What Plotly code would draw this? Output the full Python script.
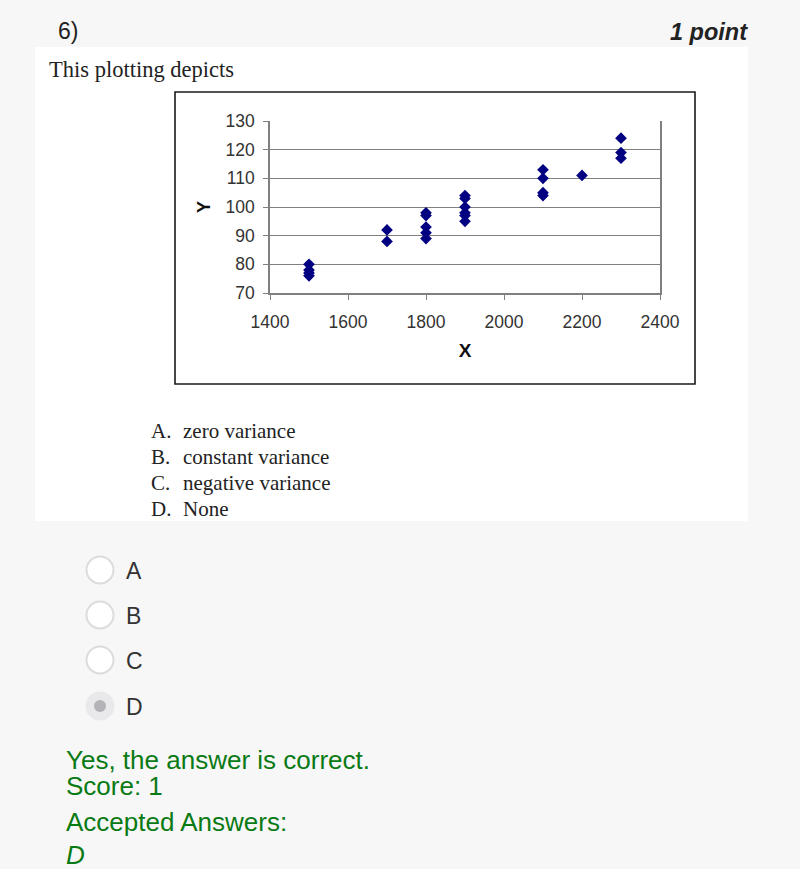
import plotly.graph_objects as go

# ---- data ----
x_values = [1500, 1500, 1500, 1500,
            1700, 1700,
            1800, 1800, 1800, 1800, 1800,
            1900, 1900, 1900, 1900, 1900, 1900,
            2100, 2100, 2100, 2100,
            2200,
            2300, 2300, 2300]
y_values = [80, 78, 77, 76,
            92, 88,
            98, 97, 93, 91, 89,
            104, 103, 100, 98, 97, 95,
            113, 110, 105, 104,
            111,
            124, 119, 117]
x_ticks = [1400, 1600, 1800, 2000, 2200, 2400]
y_ticks = [70, 80, 90, 100, 110, 120, 130]
option_letters = ["A.", "B.", "C.", "D."]
option_texts = ["zero variance", "constant variance", "negative variance", "None"]
choices = ["A", "B", "C", "D"]

W, H = 800, 869


def px(x):
    return x / W


def py(y):
    return 1 - y / H


fig = go.Figure()
fig.add_trace(go.Scatter(
    x=x_values, y=y_values, mode="markers",
    marker=dict(symbol="diamond", size=9, color="#000080"),
    showlegend=False, hoverinfo="x+y"))

SERIF = "Liberation Serif"
SANS = "Liberation Sans"

shapes = []
# white panel
shapes.append(dict(type="rect", xref="paper", yref="paper",
                   x0=px(35), x1=px(748), y0=py(521), y1=py(47),
                   fillcolor="white", line=dict(width=0), layer="below"))
# chart frame
shapes.append(dict(type="rect", xref="paper", yref="paper",
                   x0=px(175), x1=px(695), y0=py(384), y1=py(92),
                   fillcolor="rgba(0,0,0,0)", line=dict(color="#1a1a1a", width=1.6),
                   layer="below"))
# radio buttons
radio_y = [570, 615, 660, 706]
for c, ry in zip(choices, radio_y):
    r = 14.5
    if c == "D":
        shapes.append(dict(type="circle", xref="paper", yref="paper",
                           x0=px(100 - r), x1=px(100 + r), y0=py(ry + r), y1=py(ry - r),
                           fillcolor="#e9e9ec", line=dict(width=0)))
        r2 = 6
        shapes.append(dict(type="circle", xref="paper", yref="paper",
                           x0=px(100 - r2), x1=px(100 + r2), y0=py(ry + r2), y1=py(ry - r2),
                           fillcolor="#b4b4b8", line=dict(width=0)))
    else:
        shapes.append(dict(type="circle", xref="paper", yref="paper",
                           x0=px(100 - r + 1), x1=px(100 + r - 1), y0=py(ry + r - 1), y1=py(ry - r + 1),
                           fillcolor="white", line=dict(color="#dcdcdc", width=2)))

annotations = []


def txt(text, x, y, size, family=SANS, color="#222", xanchor="left", **kw):
    annotations.append(dict(text=text, x=px(x), y=py(y), xref="paper", yref="paper",
                            xanchor=xanchor, yanchor="middle", showarrow=False,
                            font=dict(size=size, family=family, color=color), **kw))


txt("6)", 56, 31, 23, color="#222")
txt("<b><i>1 point</i></b>", 750, 32, 23.5, color="#222", xanchor="right")
txt("This plotting depicts", 47, 69, 22.5, family=SERIF, color="#222")
for i, (l, o) in enumerate(zip(option_letters, option_texts)):
    txt(l, 149, 431 + 26 * i, 21, family=SERIF, color="#222")
    txt(o, 181, 431 + 26 * i, 21, family=SERIF, color="#222")
for c, ry in zip(choices, radio_y):
    txt(c, 124, ry + 1, 23, color="#333")
GREEN = "#0a7a14"
txt("Yes, the answer is correct.", 64, 760, 26, color=GREEN)
txt("Score: 1", 64, 786, 26, color=GREEN)
txt("Accepted Answers:", 64, 822, 26, color=GREEN)
txt("<i>D</i>", 64, 855, 26, color=GREEN)

fig.update_layout(
    width=W, height=H,
    margin=dict(l=0, r=0, t=0, b=0, pad=0),
    paper_bgcolor="#f7f7f7",
    plot_bgcolor="white",
    shapes=shapes,
    annotations=annotations,
    xaxis=dict(domain=[px(270), px(660)], range=[1400, 2400], automargin=False,
               tickvals=x_ticks, ticks="outside", ticklen=5, tickcolor="#808080",
               ticklabelstandoff=7,
               showgrid=False, zeroline=False, showline=True, linecolor="#808080",
               linewidth=1.5, tickfont=dict(family=SANS, size=17.5, color="#333"),
               title=dict(text="<b>X</b>", font=dict(family=SANS, size=19, color="#111"),
                          standoff=13),
               fixedrange=True),
    yaxis=dict(domain=[py(293), py(121)], range=[70, 130], automargin=False,
               tickvals=y_ticks, ticks="outside", ticklen=5, tickcolor="#808080",
               ticklabelstandoff=5,
               showgrid=True, gridcolor="#808080", gridwidth=1.3, zeroline=False,
               showline=True, linecolor="#808080", linewidth=1.5, mirror=True,
               tickfont=dict(family=SANS, size=17.5, color="#333"),
               title=dict(text="<b>Y</b>", font=dict(family=SANS, size=18, color="#111"),
                          standoff=10),
               fixedrange=True),
)

fig.write_html("out.html", config={"displayModeBar": False},
               post_script="document.body.style.margin='0';document.body.style.background='#f7f7f7';")
